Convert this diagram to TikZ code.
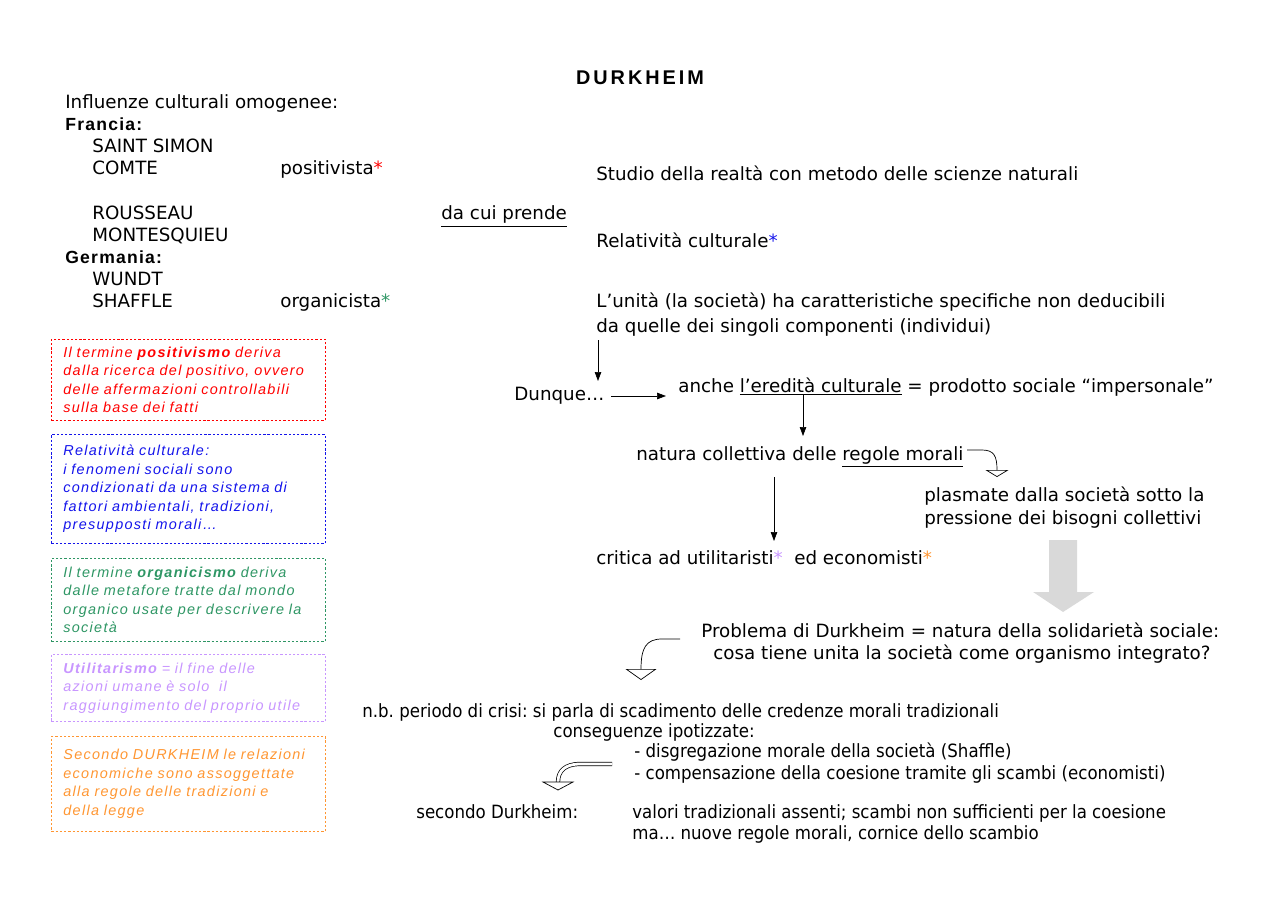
\documentclass[tikz,border=0pt]{standalone}
\usepackage{fontspec}
\setmainfont{DejaVu Sans}
\newfontfamily\notefont[LetterSpace=9]{Liberation Sans}
\newfontfamily\headfont[LetterSpace=7]{Liberation Sans}
\newfontfamily\titlefont[LetterSpace=15]{Liberation Sans}
\newfontfamily\narrowfont[FakeStretch=0.91]{DejaVu Sans}
\frenchspacing
\usetikzlibrary{arrows.meta}
\definecolor{posred}{RGB}{255,0,0}
\definecolor{relblue}{RGB}{20,20,235}
\definecolor{orggreen}{RGB}{46,150,100}
\definecolor{utilpurple}{RGB}{200,150,255}
\definecolor{ecoorange}{RGB}{255,150,50}
\definecolor{arrowgrey}{RGB}{217,217,217}
\tikzset{
  txt/.style={anchor=base west, inner sep=0pt, font=\fontsize{10.4}{12}\selectfont},
  nbtxt/.style={txt, font=\narrowfont\fontsize{10.4}{12}\selectfont},
  headtxt/.style={txt, font=\headfont\bfseries\fontsize{10}{12}\selectfont},
  notebox/.style={draw, line width=0.5pt, dash pattern=on 1.3pt off 1.1pt, anchor=north west, align=left,
    minimum width=5.48cm, text width=5.0cm, inner xsep=0.24cm,
    font=\notefont\itshape\fontsize{8.2}{10.5}\selectfont},
  arr/.style={thin, -{Triangle[length=1.8mm,width=1.3mm]}},
}
\begin{document}
\begin{tikzpicture}[x=0.02cm,y=-0.02cm]
\useasboundingbox (0,0) rectangle (1280,905);
% titolo
\node[anchor=base, inner sep=0pt, font=\titlefont\bfseries\fontsize{11.3}{13}\selectfont] (title) at (640,85) {DURKHEIM};
% influenze
\node[txt] (influ) at (65,109) {Influenze culturali omogenee:};
\node[headtxt] (francia) at (65,131) {Francia:};
\node[txt] (saint) at (92,153) {SAINT SIMON};
\node[txt] (comte) at (92,175) {COMTE};\node[txt] (posit) at (280,175) {positivista{\color{posred}*}};
\node[txt] (rous) at (92,220) {ROUSSEAU};\node[txt] (dacui) at (441,220) {\underline{da cui prende}};
\node[txt] (montes) at (92,242) {MONTESQUIEU};
\node[headtxt] (germ) at (65,264) {Germania:};
\node[txt] (wundt) at (92,286) {WUNDT};
\node[txt] (shaff) at (92,308) {SHAFFLE};\node[txt] (organ) at (280,308) {organicista{\color{orggreen}*}};
% colonna destra
\node[txt] (studio) at (596,181) {Studio della realtà con metodo delle scienze naturali};
\node[txt] (relat) at (596,248) {Relatività culturale{\color{relblue}*}};
\node[txt] (unita) at (596,308) {L’unità (la società) ha caratteristiche specifiche non deducibili};
\node[txt] (unita2) at (596,332) {da quelle dei singoli componenti (individui)};
\node[txt] (dunque) at (514,400) {Dunque…};
\node[txt] (eredita) at (678,392) {anche \underline{l’eredità culturale} = prodotto sociale “impersonale”};
\node[txt] (regole) at (636,460) {natura collettiva delle \underline{regole morali}};
\node[txt] (plasm) at (924,501) {plasmate dalla società sotto la};
\node[txt] (plasm2) at (924,524) {pressione dei bisogni collettivi};
\node[txt] (critica) at (596,564) {critica ad utilitaristi{\color{utilpurple}*}\ \ ed economisti{\color{ecoorange}*}};
\node[txt] (probl) at (701,637) {Problema di Durkheim = natura della solidarietà sociale:};
\node[txt] (probl2) at (713,659) {cosa tiene unita la società come organismo integrato?};
\node[nbtxt] (nb) at (362,717) {n.b. periodo di crisi: si parla di scadimento delle credenze morali tradizionali};
\node[nbtxt] (conseg) at (553,737) {conseguenze ipotizzate:};
\node[nbtxt] (disgr) at (634,757) {- disgregazione morale della società (Shaffle)};
\node[nbtxt] (compens) at (634,779) {- compensazione della coesione tramite gli scambi (economisti)};
\node[nbtxt] (secondo) at (416,818) {secondo Durkheim:};
\node[nbtxt] (valori) at (632,818) {valori tradizionali assenti; scambi non sufficienti per la coesione};
\node[nbtxt] (ma) at (632,839) {ma… nuove regole morali, cornice dello scambio};
% riquadri
\node[notebox, draw=posred, text=posred, minimum height=1.62cm] (npos) at (51,339)
  {Il termine \textbf{positivismo} deriva\\dalla ricerca del positivo, ovvero\\delle affermazioni controllabili\\sulla base dei fatti};
\node[notebox, draw=relblue, text=relblue, minimum height=2.18cm] (nrel) at (51,434)
  {Relatività culturale:\\i fenomeni sociali sono\\condizionati da una sistema di\\fattori ambientali, tradizioni,\\presupposti morali…};
\node[notebox, draw=orggreen, text=orggreen, minimum height=1.66cm] (norg) at (51,558)
  {Il termine \textbf{organicismo} deriva\\dalle metafore tratte dal mondo\\organico usate per descrivere la\\società};
\node[notebox, draw=utilpurple, text=utilpurple, minimum height=1.34cm] (nutil) at (51,654)
  {\textbf{Utilitarismo} = il fine delle\\azioni umane è solo\ \ il\\raggiungimento del proprio utile};
\node[notebox, draw=ecoorange, text=ecoorange, minimum height=1.9cm] (neco) at (51,736)
  {Secondo DURKHEIM le relazioni\\economiche sono assoggettate\\alla regole delle tradizioni e\\della legge};
% frecce
\coordinate (u1) at (598,340); \coordinate (u2) at (598,381);
\coordinate (d1) at (611,396); \coordinate (d2) at (666,396);
\coordinate (e1) at (803,394); \coordinate (e2) at (803,436);
\coordinate (r1) at (774,477); \coordinate (r2) at (774,541);
\draw[arr] (u1) -- (u2);
\draw[arr] (d1) -- (d2);
\draw[arr] (e1) -- (e2);
\draw[arr] (r1) -- (r2);
\coordinate (m1) at (967,450); \coordinate (m2) at (997,477);
\draw[thin, -{Triangle[open,length=1.4mm,width=4.6mm]}] (m1) -- (982,450) .. controls (994,450) and (997,456) .. (m2);
\coordinate (p1) at (680,639); \coordinate (p2) at (641,680);
\draw[thin, -{Triangle[open,length=2.2mm,width=6.2mm]}] (p1) -- (662,639) .. controls (646,639) and (641,648) .. (p2);
\coordinate (c1) at (612,764); \coordinate (c2) at (558,782);
\draw[double, double distance=1.6pt, thin] (c1) -- (580,764) .. controls (565,764) and (558,771) .. (c2);
\draw[thin, fill=white] (543,782) -- (573,782) -- (558,790) -- cycle;
% freccia grigia
\fill[arrowgrey] (1049,540) -- (1077,540) -- (1077,592) -- (1094,592) -- (1063,612) -- (1033,592) -- (1049,592) -- cycle;
\end{tikzpicture}
\end{document}
